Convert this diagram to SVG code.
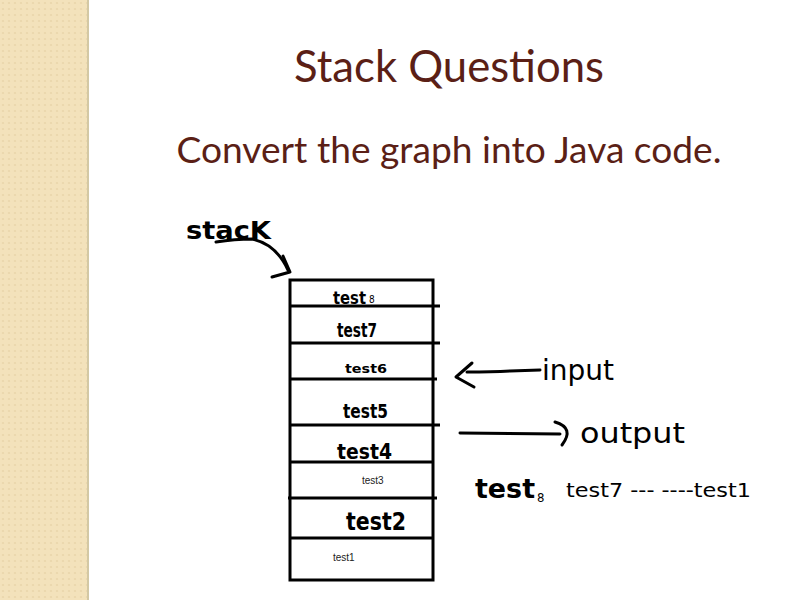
<svg xmlns="http://www.w3.org/2000/svg" width="800" height="600" viewBox="0 0 800 600">
<style>
.title{font-family:"Lato","Open Sans",sans-serif;fill:#5b1f16}
.hand{font-family:"DejaVu Sans Condensed","DejaVu Sans",sans-serif;font-weight:bold;fill:#000}
.thin{font-family:"DejaVu Sans Condensed","DejaVu Sans",sans-serif;fill:#000}
.ink{fill:none;stroke:#000;stroke-linecap:round;stroke-linejoin:round}
.small{font-family:"Liberation Sans",Arial,sans-serif;font-size:10px;fill:#222}
</style>
<defs>
<pattern id="dots" width="6" height="6" patternUnits="userSpaceOnUse">
<rect width="6" height="6" fill="#f3e2bb"/>
<circle cx="3" cy="3" r="1.1" fill="#e9d6ab"/>
</pattern>
</defs>
<rect width="800" height="600" fill="#fff"/>
<rect x="0" y="0" width="88" height="600" fill="url(#dots)"/>
<rect x="87" y="0" width="2" height="600" fill="#d3c8a4"/>

<g id="title">
<text class="title" x="449" y="82" font-size="44" text-anchor="middle" textLength="310" lengthAdjust="spacingAndGlyphs">Stack Questions</text>
<text class="title" x="449" y="163" font-size="36" text-anchor="middle" textLength="545" lengthAdjust="spacingAndGlyphs">Convert the graph into Java code.</text>
</g>

<g id="stack-label">
<text class="hand" x="186" y="239" font-size="25" textLength="85" lengthAdjust="spacingAndGlyphs">stacK</text>
</g>

<g id="stack">
<rect x="290" y="280" width="143" height="300" fill="none" stroke="#000" stroke-width="3"/>
<g stroke="#000" stroke-width="3">
<line x1="290" y1="306" x2="440" y2="306"/>
<line x1="290" y1="343" x2="440" y2="343"/>
<line x1="290" y1="379" x2="437" y2="379"/>
<line x1="290" y1="425" x2="440" y2="425"/>
<line x1="290" y1="462" x2="433" y2="462"/>
<line x1="288" y1="498" x2="437" y2="498"/>
<line x1="290" y1="538" x2="433" y2="538"/>
</g>
</g>

<g id="test8"><text class="hand" x="333" y="304" font-size="18" textLength="33" lengthAdjust="spacingAndGlyphs">test</text><text class="thin" x="369" y="303" font-size="10">8</text></g>
<g id="test7"><text class="hand" x="337" y="337" font-size="20" textLength="40" lengthAdjust="spacingAndGlyphs">test7</text></g>
<g id="test6"><text class="hand" x="345" y="373" font-size="13" textLength="42" lengthAdjust="spacingAndGlyphs">test6</text></g>
<g id="test5"><text class="hand" x="343" y="418" font-size="19" textLength="45" lengthAdjust="spacingAndGlyphs">test5</text></g>
<g id="test4"><text class="hand" x="337" y="459" font-size="22" textLength="55" lengthAdjust="spacingAndGlyphs">test4</text></g>
<g id="test3"><text class="small" x="362" y="484">test3</text></g>
<g id="test2"><text class="hand" x="346" y="530" font-size="24" textLength="60" lengthAdjust="spacingAndGlyphs">test2</text></g>
<g id="test1"><text class="small" x="333" y="561">test1</text></g>

<g id="connectors">
<path class="ink" stroke-width="3" d="M216 242 Q235 239 252 239 Q276 244 288 270"/>
<path class="ink" stroke-width="3" d="M283 256 L290 272 L272 277"/>
<path class="ink" stroke-width="3" d="M467 372 Q492 372 510 371 L540 370"/>
<path class="ink" stroke-width="3" d="M472 363 L456 377 L474 387"/>
<path class="ink" stroke-width="3" d="M460 433 L560 434"/>
<path class="ink" stroke-width="3" d="M555 422 Q575 428 562 445"/>
</g>

<g id="input-label"><text class="thin" x="542" y="380" font-size="28" textLength="72" lengthAdjust="spacingAndGlyphs">input</text></g>
<g id="output-label"><text class="thin" x="580" y="443" font-size="28" textLength="105" lengthAdjust="spacingAndGlyphs">output</text></g>

<g id="sequence">
<text class="hand" x="475" y="498" font-size="26" textLength="60" lengthAdjust="spacingAndGlyphs">test</text>
<text class="thin" x="537" y="502" font-size="13">8</text>
<text class="thin" x="566" y="497" font-size="20" fill="#333" textLength="185" lengthAdjust="spacingAndGlyphs">test7 --- ----test1</text>
</g>
</svg>
